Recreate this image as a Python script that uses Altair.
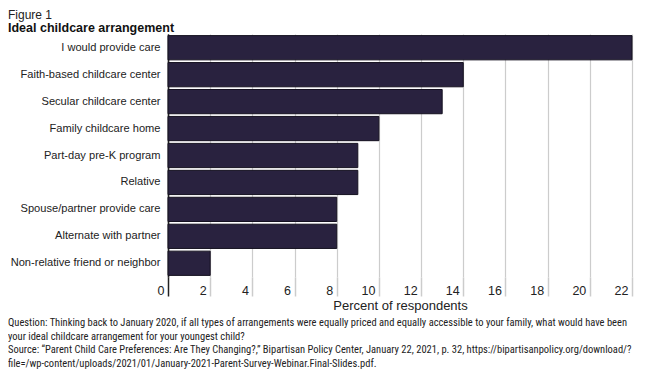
import altair as alt
import pandas as pd

categories = [
    "I would provide care",
    "Faith-based childcare center",
    "Secular childcare center",
    "Family childcare home",
    "Part-day pre-K program",
    "Relative",
    "Spouse/partner provide care",
    "Alternate with partner",
    "Non-relative friend or neighbor",
]
values = [22, 14, 13, 10, 9, 9, 8, 8, 2]
x_ticks = list(range(0, 23, 2))

fig_label = "Figure 1"
chart_title = "Ideal childcare arrangement"
x_title = "Percent of respondents"
footnote = [
    "Question: Thinking back to January 2020, if all types of arrangements were equally priced and equally accessible to your family, what would have been",
    "your ideal childcare arrangement for your youngest child?",
    "Source: \u201cParent Child Care Preferences: Are They Changing?,\u201d Bipartisan Policy Center, January 22, 2021, p. 32, https://bipartisanpolicy.org/download/?",
    "file=/wp-content/uploads/2021/01/January-2021-Parent-Survey-Webinar.Final-Slides.pdf.",
]

df = pd.DataFrame({"cat": categories, "val": values})

FONT = "Liberation Sans"
NOTE_FONT = "Liberation Sans Narrow, Roboto Condensed, Liberation Sans"
TXT = "#222222"

bars = alt.Chart(df).mark_bar(
    color="#29223f", stroke="#14101f", strokeWidth=1
).encode(
    x=alt.X(
        "val:Q",
        scale=alt.Scale(domain=[0, 22], nice=False),
        axis=alt.Axis(
            values=x_ticks,
            title=x_title,
            titleFont=FONT,
            titleFontSize=13,
            titleFontWeight="normal",
            titleColor=TXT,
            titleBaseline="middle",
            titleY=28,
            labelFont=FONT,
            labelFontSize=12.5,
            labelColor=TXT,
            labelAlign="right",
            labelBaseline="middle",
            labelOffset=-4,
            labelPadding=-6,
            tickSize=19,
            tickColor={"condition": {"test": "datum.value === 0", "value": "#222222"}, "value": "#cccccc"},
            tickWidth=1.5,
            grid=True,
            gridColor={"condition": {"test": "datum.value === 0", "value": "#222222"}, "value": "#cccccc"},
            gridWidth=1.2,
            domain=False,
        ),
    ),
    y=alt.Y(
        "cat:N",
        sort=categories,
        scale=alt.Scale(paddingInner=0.1, paddingOuter=0.06),
        axis=alt.Axis(
            title=None,
            labelFont=FONT,
            labelFontSize=11.1,
            labelColor=TXT,
            labelPadding=8,
            ticks=False,
            domain=True,
            domainColor="#222222",
            domainWidth=1.5,
            labelLimit=300,
        ),
    ),
)

one = pd.DataFrame({"k": [0]})

note = alt.Chart(one).mark_text(
    text=footnote,
    align="left",
    baseline="middle",
    font=NOTE_FONT,
    fontSize=10.5,
    lineHeight=13.5,
    color=TXT,
).encode(x=alt.value(-160), y=alt.value(289))

fig_text = alt.Chart(one).mark_text(
    text=fig_label,
    align="left",
    baseline="alphabetic",
    font=FONT,
    fontSize=12,
    color=TXT,
).encode(x=alt.value(-160), y=alt.value(-15))

title_text = alt.Chart(one).mark_text(
    text=chart_title,
    align="left",
    baseline="alphabetic",
    font=FONT,
    fontSize=12.5,
    fontWeight="bold",
    color="#111111",
).encode(x=alt.value(-160), y=alt.value(-2.5))

chart = alt.layer(bars, note, fig_text, title_text).properties(
    width=464,
    height=243,
    padding={"left": 160, "top": 26, "right": 5, "bottom": 99},
    autosize=alt.AutoSizeParams(type="none"),
).configure_view(stroke=None)

chart.save("out.html", embed_options={"renderer": "svg", "actions": False})
